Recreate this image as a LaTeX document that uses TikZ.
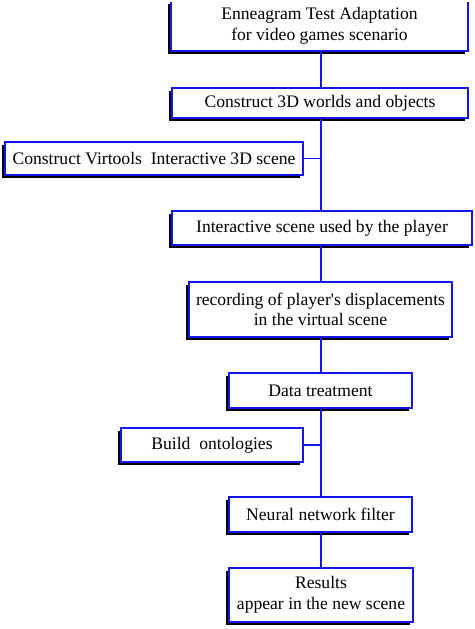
\documentclass[tikz,border=0pt]{standalone}
\usepackage{fontspec}
\setmainfont{Liberation Serif}
\usetikzlibrary{shadows}
\definecolor{boxblue}{RGB}{20,20,235}
\tikzset{
  stepbox/.style={draw=boxblue, line width=1.8pt, fill=white, inner sep=0pt,
    align=center, font=\fontsize{17.6}{20.5}\selectfont,
    drop shadow={shadow xshift=-3pt, shadow yshift=-3pt, fill=black, opacity=1}},
  conn/.style={draw=boxblue, line width=1.4pt}
}
\begin{document}
\begin{tikzpicture}[x=1pt,y=-1pt]
\useasboundingbox (0,0) rectangle (474,629);
\clip (0,2.6) rectangle (474,640);
\coordinate (spine) at (321,0);
\node[stepbox, minimum width=297pt, minimum height=50pt] (b1) at (319.5,26) {Enneagram Test Adaptation\\for video games scenario};
\node[stepbox, minimum width=296pt, minimum height=30pt] (b2) at (320,103) {Construct 3D worlds and objects};
\node[stepbox, minimum width=298pt, minimum height=33pt] (b3) at (154,158.5) {Construct Virtools\ \ Interactive 3D scene};
\node[stepbox, minimum width=300pt, minimum height=34pt] (b4) at (322,228) {Interactive scene used by the player};
\node[stepbox, minimum width=263pt, minimum height=55pt] (b5) at (320.5,309.5) {recording of player\textquotesingle s displacements\\in the virtual scene};
\node[stepbox, minimum width=183pt, minimum height=35pt] (b6) at (320.5,390.5) {Data treatment};
\node[stepbox, minimum width=182pt, minimum height=34pt] (b7) at (212,445) {Build\ \ ontologies};
\node[stepbox, minimum width=183pt, minimum height=35pt] (b8) at (320.5,514.5) {Neural network filter};
\node[stepbox, minimum width=184pt, minimum height=54pt] (b9) at (321,595) {Results\\appear in the new scene};
\draw[conn] (b1.south -| spine) -- (b2.north -| spine);
\draw[conn] (b2.south -| spine) -- (b4.north -| spine);
\draw[conn] (b3.east) -- (b3.east -| spine);
\draw[conn] (b4.south -| spine) -- (b5.north -| spine);
\draw[conn] (b5.south -| spine) -- (b6.north -| spine);
\draw[conn] (b6.south -| spine) -- (b8.north -| spine);
\draw[conn] (b7.east) -- (b7.east -| spine);
\draw[conn] (b8.south -| spine) -- (b9.north -| spine);
\end{tikzpicture}
\end{document}
